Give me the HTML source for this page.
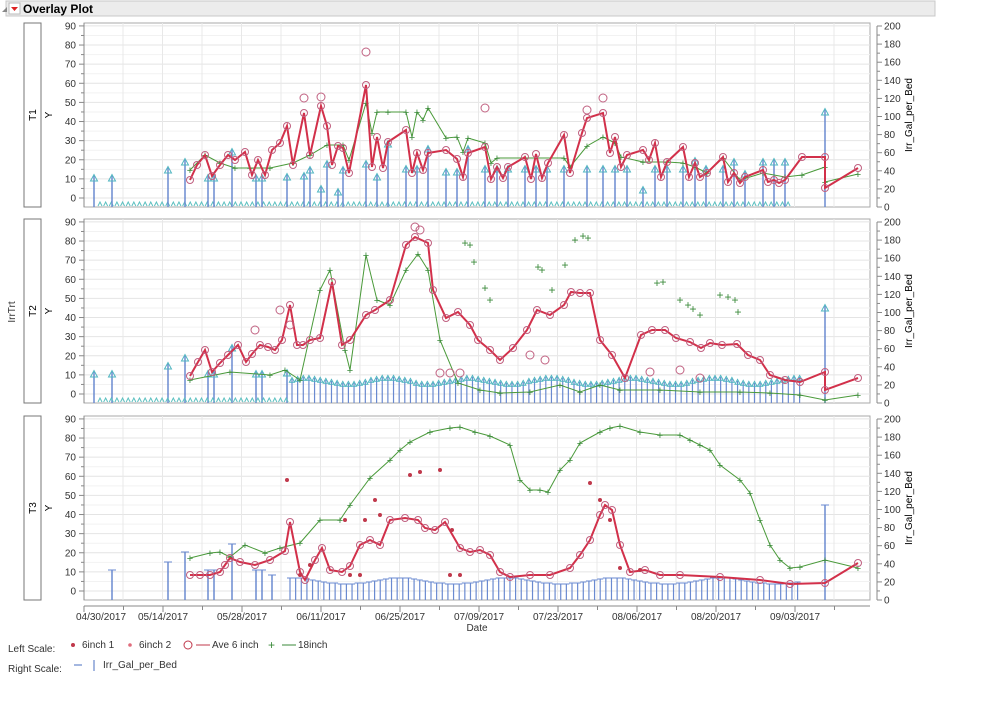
<!DOCTYPE html>
<html><head><meta charset="utf-8"><style>
body{margin:0;background:#fff;width:999px;height:710px;overflow:hidden;font-family:"Liberation Sans",sans-serif}
svg{display:block}
</style></head><body>
<svg id="s" width="999" height="710" xmlns="http://www.w3.org/2000/svg" font-family="Liberation Sans, sans-serif">
<rect x="0" y="0" width="999" height="710" fill="#fff"/>
<rect x="6" y="1" width="929" height="15" fill="#ececec" stroke="#c8c8c8"/>
<path d="M2 12 L7 7 L7 12 Z" fill="#888"/>
<rect x="9" y="3" width="11" height="11" fill="#fff" stroke="#bbb"/>
<path d="M11 7 L18 7 L14.5 11 Z" fill="#d22"/>
<text x="23" y="13" font-size="12" font-weight="bold" fill="#000">Overlay Plot</text>
<text transform="translate(15,312) rotate(-90)" font-size="10" text-anchor="middle" fill="#333">IrrTrt</text>
<text x="477" y="631" font-size="10" text-anchor="middle" fill="#333">Date</text>
<g font-size="10" fill="#333">
<text x="8" y="652">Left Scale:</text>
<circle cx="73" cy="645" r="2" fill="#c0384b"/><text x="82" y="648">6inch 1</text>
<circle cx="130" cy="645" r="1.8" fill="#e06c7c"/><text x="139" y="648">6inch 2</text>
<circle cx="188" cy="645" r="4" fill="none" stroke="#c0384b"/><line x1="196" y1="645" x2="210" y2="645" stroke="#c0384b"/><text x="212" y="648">Ave 6 inch</text>
<text x="268" y="649" fill="#3a8a3a" font-size="12">+</text><line x1="282" y1="645" x2="296" y2="645" stroke="#3a8a3a"/><text x="298" y="648">18inch</text>
<text x="8" y="672">Right Scale:</text>
<line x1="74" y1="665" x2="82" y2="665" stroke="#4a6fc0"/><line x1="94" y1="660" x2="94" y2="671" stroke="#4a6fc0"/><text x="103" y="668">Irr_Gal_per_Bed</text>
</g>
<g id="g"></g>
</svg>
<script>
(function(){
var g=document.getElementById('g'),h='';
var X0=84,X1=870;
var offs=[0,196,393];
var labs=['T1','T2','T3'];
function P(a,o){var s='';for(var i=0;i<a.length;i+=2)s+=a[i]+','+(a[i+1]+o)+' ';return s;}
var red1=[190,180,197,165,205,155,212,176,220,165,228,155,235,160,245,152,252,175,258,160,265,175,272,150,280,143,287,126,293,165,304,113,310,155,321,106,327,126,332,165,338,146,343,148,349,173,366,85,372,167,377,137,383,168,388,142,406,130,412,173,417,153,423,170,428,153,446,150,457,159,463,177,468,153,485,147,491,179,497,167,503,178,508,167,525,157,531,179,536,154,542,178,548,163,564,135,570,173,582,133,587,118,603,113,610,153,615,137,621,167,627,155,643,150,649,160,655,143,661,177,667,162,683,147,689,177,695,163,700,177,707,173,723,157,728,182,734,173,740,183,745,177,763,170,768,182,774,180,779,183,785,180,802,157,825,157,825,188,858,168];
var gr1=[190,170,205,155,220,163,235,168,250,168,270,168,293,163,310,155,327,145,343,145,349,160,366,103,372,133,377,112,388,112,406,112,412,137,417,112,423,120,428,108,446,138,457,137,463,152,468,138,485,143,491,163,497,158,525,158,564,158,570,167,587,146,603,137,615,143,621,157,643,162,667,162,683,163,695,167,707,173,723,158,740,180,763,173,785,177,802,175,825,167,825,182,858,174];
var red2=[190,376,198,362,205,350,212,372,220,363,228,355,238,345,246,362,252,354,260,345,268,347,275,350,282,340,290,305,297,345,303,345,310,340,320,338,332,282,342,345,350,340,366,315,375,310,390,300,406,245,415,237,428,243,433,290,446,318,458,312,470,325,478,340,490,350,500,360,513,348,527,330,537,310,550,315,564,305,571,292,580,293,590,293,600,340,612,355,625,378,641,335,652,330,665,330,676,338,690,342,701,348,710,343,722,345,737,344,748,355,760,360,770,375,785,380,800,382,825,372,825,390,858,378];
var gr2=[190,380,230,372,270,375,285,370,300,380,320,290,330,270,345,350,350,370,366,255,377,300,390,305,406,270,418,254,428,270,440,340,458,383,480,390,500,393,530,392,560,385,580,392,600,385,620,390,660,390,700,392,740,392,770,393,800,395,825,400,858,395];
var red3=[190,575,200,575,210,575,220,572,225,565,230,558,240,562,255,565,270,560,285,551,290,522,300,572,305,580,315,560,322,548,330,570,342,572,350,566,360,545,370,540,380,545,390,520,405,518,418,520,425,528,435,530,445,522,460,548,470,552,480,550,490,555,500,572,510,577,530,575,550,575,570,568,580,555,590,540,600,515,605,505,612,510,620,545,630,572,645,570,660,575,680,575,720,577,760,580,790,584,825,583,858,563];
var gr3=[190,558,210,553,220,552,230,557,245,545,265,553,280,548,300,543,320,520,340,520,350,505,370,478,390,460,400,450,410,442,430,432,450,428,460,427,475,432,490,436,510,445,520,480,530,490,540,490,548,492,560,470,570,460,580,443,600,432,610,428,620,426,640,432,660,435,680,435,690,440,700,445,710,450,720,465,740,480,750,493,760,520,770,545,780,560,790,568,800,567,825,560,858,568];
var stems1=[[94,176],[112,176],[168,168],[185,160],[208,176],[214,176],[232,150],[256,176],[262,176],[287,175],[304,174],[310,168],[321,187],[327,162],[338,190],[343,168],[366,162],[377,175],[388,142],[406,167],[417,167],[428,147],[446,170],[457,170],[468,147],[485,167],[497,167],[508,167],[525,167],[536,167],[547,167],[564,167],[587,167],[603,167],[615,167],[627,167],[643,188],[655,167],[667,167],[683,167],[695,159],[706,167],[723,167],[734,160],[745,172],[763,160],[774,160],[785,160],[825,110]];
for(var p=0;p<3;p++){var o=offs[p],pt=23+o,pb=207+o;
 h+='<rect x="24" y="'+pt+'" width="17" height="'+(pb-pt)+'" fill="#fff" stroke="#777"/>';
 h+='<text transform="translate(36,'+((pt+pb)/2)+') rotate(-90)" font-size="10" text-anchor="middle">'+labs[p]+'</text>';
 h+='<text transform="translate(52,'+((pt+pb)/2)+') rotate(-90)" font-size="10" text-anchor="middle">Y</text>';
 h+='<text transform="translate(912,'+((pt+pb)/2)+') rotate(-90)" font-size="10" text-anchor="middle">Irr_Gal_per_Bed</text>';
 h+='<rect x="'+X0+'" y="'+pt+'" width="'+(X1-X0)+'" height="'+(pb-pt)+'" fill="#fff" stroke="#aaa"/>';
 for(var v=0;v<=90;v+=5){var y=198+o-v*1.912;h+='<line x1="'+X0+'" x2="'+X1+'" y1="'+y+'" y2="'+y+'" stroke="'+(v%10?'#f2f2f2':'#e4e4e4')+'"/>';
  h+='<line x1="'+(X0-(v%10?3:5))+'" x2="'+X0+'" y1="'+y+'" y2="'+y+'" stroke="#888"/>';
  if(v%10==0)h+='<text x="'+(X0-8)+'" y="'+(y+3.5)+'" font-size="10" text-anchor="end" fill="#333">'+v+'</text>';}
 h+='<line x1="'+X0+'" x2="'+X0+'" y1="'+pt+'" y2="'+pb+'" stroke="#888"/>';
 for(var x=123;x<X1;x+=39.5)h+='<line x1="'+x+'" x2="'+x+'" y1="'+pt+'" y2="'+pb+'" stroke="#e8e8e8"/>';
 h+='<line x1="877" x2="877" y1="'+(pt+3)+'" y2="'+pb+'" stroke="#888"/>';
 for(var r=0;r<=200;r+=10){var y=pb-r*0.905;h+='<line x1="877" x2="'+(r%20?880:882)+'" y1="'+y+'" y2="'+y+'" stroke="#888"/>';
  if(r%20==0)h+='<text x="884" y="'+(y+3.5)+'" font-size="10" fill="#333">'+r+'</text>';}
}
h+='<line x1="'+X0+'" x2="'+X1+'" y1="606" y2="606" stroke="#888"/>';
var dl=['04/30/2017','05/14/2017','05/28/2017','06/11/2017','06/25/2017','07/09/2017','07/23/2017','08/06/2017','08/20/2017','09/03/2017'];
for(var i=0;i<20;i++){var x=84+39.5*i;if(x>X1)break;h+='<line x1="'+x+'" x2="'+x+'" y1="606" y2="'+(i%2?610:612)+'" stroke="#888"/>';}
for(var i=0;i<dl.length;i++){var x=i==0?101:84+79*i;h+='<text x="'+x+'" y="620" font-size="10" text-anchor="middle" fill="#333">'+dl[i]+'</text>';}
function tri(x,y,c,s){s=s||3.5;return '<path d="M'+(x-s)+' '+(y+s*0.85)+' L'+x+' '+(y-s)+' L'+(x+s)+' '+(y+s*0.85)+' Z" fill="none" stroke="'+c+'"/>';}
for(var x=100;x<790;x+=5.64){h+='<path d="M'+(x-2)+' 206 L'+x+' 202 L'+(x+2)+' 206" fill="none" stroke="#5cc0c0"/>';}
stems1.forEach(function(s){h+='<line x1="'+s[0]+'" x2="'+s[0]+'" y1="207" y2="'+s[1]+'" stroke="#6a8ad0" stroke-width="1.5"/>'+tri(s[0],s[1]+2,'#4fb5c0');});
stems1.filter(function(s){return s[0]<290}).forEach(function(s){h+='<line x1="'+s[0]+'" x2="'+s[0]+'" y1="403" y2="'+(s[1]+196)+'" stroke="#6a8ad0" stroke-width="1.5"/>'+tri(s[0],s[1]+198,'#4fb5c0');});
for(var x=100;x<290;x+=5.64)h+='<path d="M'+(x-2)+' 402 L'+x+' 398 L'+(x+2)+' 402" fill="none" stroke="#5cc0c0"/>';
for(var x=292;x<800;x+=5.64){var y=380+Math.round(3*Math.sin(x/13));h+='<line x1="'+x+'" x2="'+x+'" y1="403" y2="'+y+'" stroke="#6a8ad0" stroke-width="1.2"/>'+tri(x,y+1,'#4fb5c0',2.6);}
h+='<line x1="825" x2="825" y1="403" y2="306" stroke="#6a8ad0" stroke-width="1.5"/>'+tri(825,308,'#4fb5c0');
[[112,570],[168,562],[185,552],[208,570],[214,570],[232,544],[256,570],[262,570],[272,575]].forEach(function(s){h+='<line x1="'+s[0]+'" x2="'+s[0]+'" y1="600" y2="'+s[1]+'" stroke="#6a8ad0" stroke-width="1.5"/><line x1="'+(s[0]-4)+'" x2="'+(s[0]+4)+'" y1="'+s[1]+'" y2="'+s[1]+'" stroke="#6a8ad0"/>';});
for(var x=290;x<800;x+=5.64){var y=581+Math.round(3*Math.sin(x/17));h+='<line x1="'+x+'" x2="'+x+'" y1="600" y2="'+y+'" stroke="#6a8ad0" stroke-width="1.2"/><line x1="'+(x-3)+'" x2="'+(x+3)+'" y1="'+y+'" y2="'+y+'" stroke="#6a8ad0"/>';}
h+='<line x1="825" x2="825" y1="600" y2="505" stroke="#6a8ad0" stroke-width="1.5"/><line x1="821" x2="829" y1="505" y2="505" stroke="#6a8ad0"/>';
function series(r,gg,o){
 h+='<polyline points="'+P(gg,o)+'" fill="none" stroke="#4a9a3a" stroke-width="1"/>';
 for(var i=0;i<gg.length;i+=2)h+='<text x="'+gg[i]+'" y="'+(gg[i+1]+o+4)+'" font-size="11" text-anchor="middle" fill="#3a8a3a">+</text>';
 h+='<polyline points="'+P(r,o)+'" fill="none" stroke="#d2304a" stroke-width="2"/>';
 for(var i=0;i<r.length;i+=2){h+='<circle cx="'+r[i]+'" cy="'+(r[i+1]+o)+'" r="3.5" fill="none" stroke="#c06080"/>';}
}
series(red1,gr1,0);series(red2,gr2,0);series(red3,gr3,0);
[[366,52],[321,97],[304,98],[485,108],[603,98],[587,110],[415,227],[420,230]].forEach(function(s){h+='<circle cx="'+s[0]+'" cy="'+s[1]+'" r="4" fill="none" stroke="#c06080"/>';});
[[465,243],[470,245],[474,262],[485,288],[490,300],[538,267],[542,270],[552,290],[565,265],[575,240],[583,236],[588,238],[657,283],[663,282],[680,300],[688,305],[693,309],[700,315],[720,295],[728,297],[735,300],[738,312]].forEach(function(s){h+='<text x="'+s[0]+'" y="'+(s[1]+4)+'" font-size="12" text-anchor="middle" fill="#3a8a3a">+</text>';});
[[280,310],[255,330],[290,325],[440,373],[450,373],[460,373],[530,355],[545,360],[650,372],[680,370],[700,378]].forEach(function(s){h+='<circle cx="'+s[0]+'" cy="'+s[1]+'" r="4" fill="none" stroke="#c06080"/>';});
[[287,480],[375,500],[380,515],[410,475],[420,472],[440,470],[452,530],[365,520],[345,520],[590,483],[600,500],[610,520],[620,568],[640,570],[300,575],[310,565],[450,575],[460,575],[350,575],[360,575]].forEach(function(s){h+='<circle cx="'+s[0]+'" cy="'+s[1]+'" r="2" fill="#c0384b"/>';});
g.innerHTML=h;
})();
</script>
</body></html>
